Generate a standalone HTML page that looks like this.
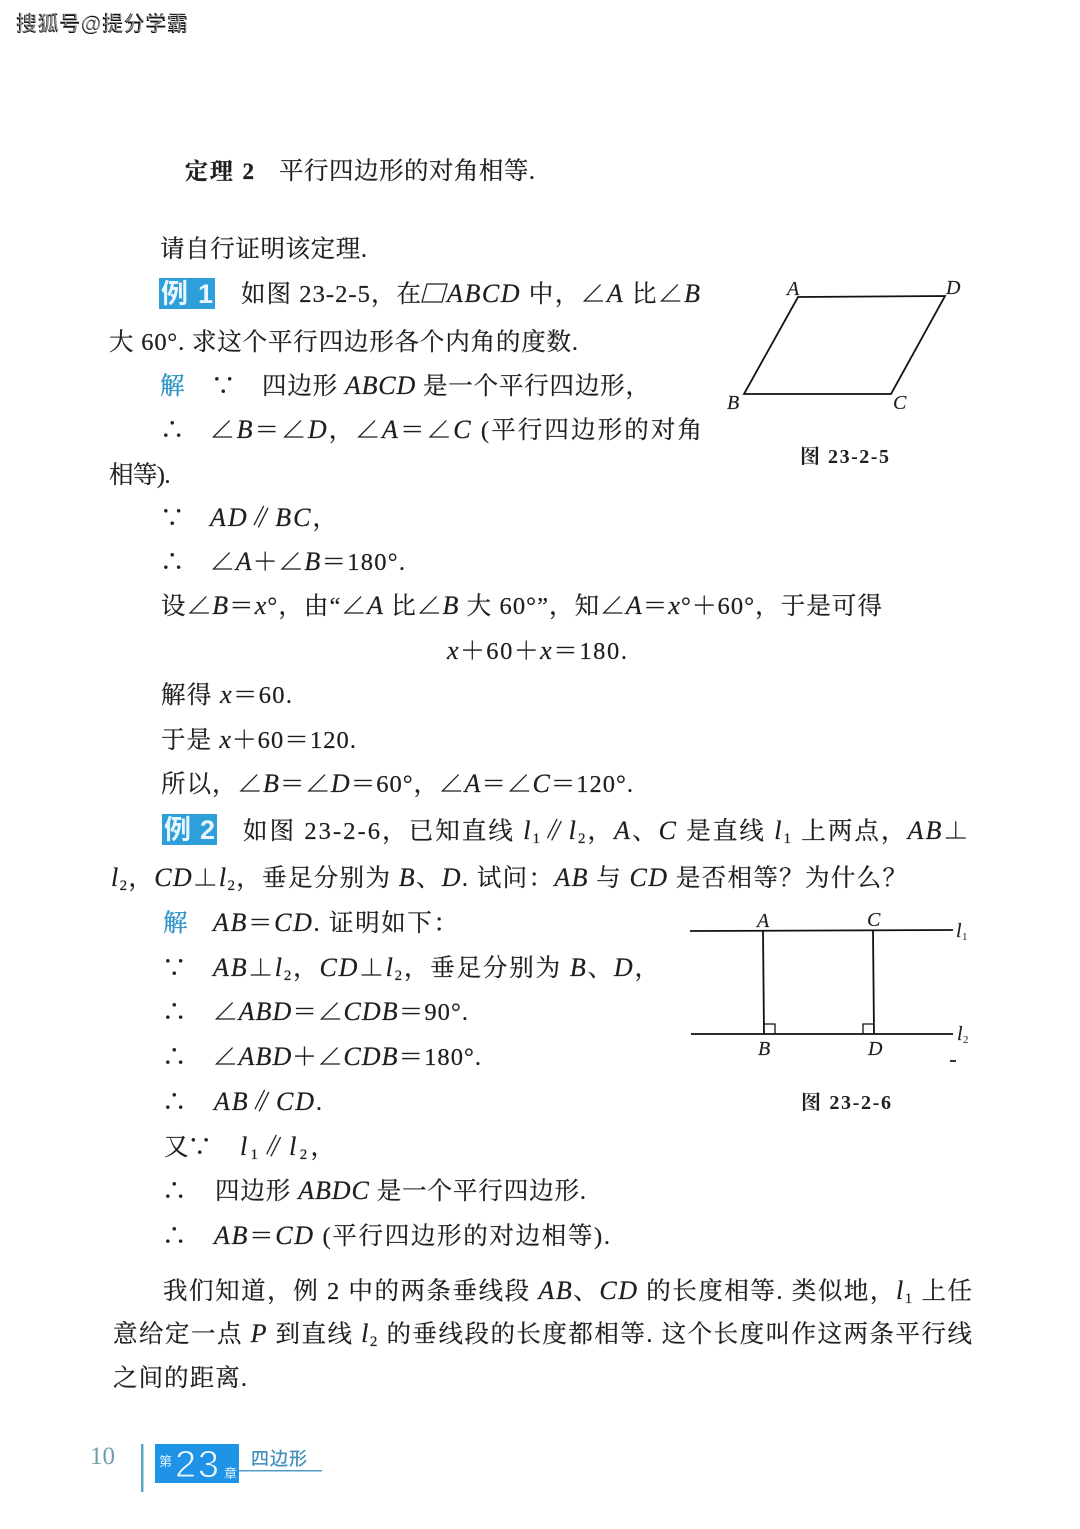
<!DOCTYPE html>
<html lang="zh"><head><meta charset="utf-8"><title>定理2</title>
<style>
html,body{margin:0;padding:0;background:#fff}
svg{display:block}
text{font-family:"Liberation Serif","Noto Serif CJK SC",serif;font-size:24.5px;fill:#1f1f1f}
g.t text{stroke:#1f1f1f;stroke-width:.22px}
.i{font-style:italic;font-size:26px}
.s{font-size:15px}
.b{font-weight:bold}
g.t text.blue{fill:#2f94c8;stroke:#2f94c8;stroke-width:.35px}
.lab{font-size:20px;font-style:italic;stroke:#1f1f1f;stroke-width:.15px}
.cap{font-size:20px;font-weight:bold}
.sans{font-family:"Liberation Sans","Noto Sans CJK SC",sans-serif}
</style></head><body>
<svg width="1080" height="1529" viewBox="0 0 1080 1529" xmlns="http://www.w3.org/2000/svg">
<rect width="1080" height="1529" fill="#fff"/>

<!-- watermark -->
<text x="16" y="31" textLength="172" lengthAdjust="spacing" class="sans" style="font-size:21px;font-weight:bold;fill:#111">搜狐号@提分学霸</text>
<text x="16.6" y="30" textLength="172" lengthAdjust="spacing" class="sans" style="font-size:21px;fill:#fff;opacity:.55" aria-hidden="true">搜狐号@提分学霸</text>

<g class="t" transform="translate(0,1)">
<!-- theorem -->
<text x="185" y="178" textLength="69" lengthAdjust="spacing" class="b" style="font-size:23px">定理 2</text>
<text x="279" y="178" textLength="256" lengthAdjust="spacing">平行四边形的对角相等.</text>
<text x="160" y="256" textLength="207" lengthAdjust="spacing">请自行证明该定理.</text>

<!-- example 1 -->
<text x="241" y="301" textLength="180" lengthAdjust="spacing">如图 23-2-5，在</text>
<polygon points="427,283 447,283 442,301 422,301" fill="none" stroke="#222" stroke-width="1.3"/>
<text x="447" y="301" textLength="253" lengthAdjust="spacing"><tspan class="i">ABCD</tspan> 中，∠<tspan class="i">A</tspan> 比∠<tspan class="i">B</tspan></text>
<text x="109" y="349" textLength="469" lengthAdjust="spacing">大 60°. 求这个平行四边形各个内角的度数.</text>
<text x="160" y="393" class="blue">解</text>
<text x="211" y="393">∵</text>
<text x="262" y="393" textLength="388" lengthAdjust="spacing">四边形 <tspan class="i">ABCD</tspan> 是一个平行四边形，</text>
<text x="160" y="437">∴</text>
<text x="210" y="437" textLength="492" lengthAdjust="spacing">∠<tspan class="i">B</tspan>＝∠<tspan class="i">D</tspan>，∠<tspan class="i">A</tspan>＝∠<tspan class="i">C</tspan> (平行四边形的对角</text>
<text x="109" y="482" style="letter-spacing:-.6px">相等).</text>
<text x="160" y="525">∵</text>
<text x="210" y="525" textLength="127" lengthAdjust="spacing"><tspan class="i">AD</tspan>∥<tspan class="i">BC</tspan>，</text>
<text x="160" y="569">∴</text>
<text x="210" y="569" textLength="195" lengthAdjust="spacing">∠<tspan class="i">A</tspan>＋∠<tspan class="i">B</tspan>＝180°.</text>
<text x="161" y="613" textLength="721" lengthAdjust="spacing">设∠<tspan class="i">B</tspan>＝<tspan class="i">x</tspan>°，由“∠<tspan class="i">A</tspan> 比∠<tspan class="i">B</tspan> 大 60°”，知∠<tspan class="i">A</tspan>＝<tspan class="i">x</tspan>°＋60°，于是可得</text>
<text x="447" y="658" textLength="180" lengthAdjust="spacing"><tspan class="i">x</tspan>＋60＋<tspan class="i">x</tspan>＝180.</text>
<text x="161" y="702" textLength="131" lengthAdjust="spacing">解得 <tspan class="i">x</tspan>＝60.</text>
<text x="161" y="747" textLength="195" lengthAdjust="spacing">于是 <tspan class="i">x</tspan>＋60＝120.</text>
<text x="161" y="791" textLength="472" lengthAdjust="spacing">所以，∠<tspan class="i">B</tspan>＝∠<tspan class="i">D</tspan>＝60°，∠<tspan class="i">A</tspan>＝∠<tspan class="i">C</tspan>＝120°.</text>

<!-- example 2 -->
<text x="243" y="838" textLength="725" lengthAdjust="spacing">如图 23-2-6，已知直线 <tspan class="i">l</tspan><tspan class="s" dy="4">1</tspan><tspan dy="-4">∥</tspan><tspan class="i">l</tspan><tspan class="s" dy="4">2</tspan><tspan dy="-4">，</tspan><tspan class="i">A</tspan>、<tspan class="i">C</tspan> 是直线 <tspan class="i">l</tspan><tspan class="s" dy="4">1</tspan><tspan dy="-4"> 上两点，</tspan><tspan class="i">AB</tspan>⊥</text>
<text x="111" y="885" textLength="796" lengthAdjust="spacing"><tspan class="i">l</tspan><tspan class="s" dy="4">2</tspan><tspan dy="-4">，</tspan><tspan class="i">CD</tspan>⊥<tspan class="i">l</tspan><tspan class="s" dy="4">2</tspan><tspan dy="-4">，垂足分别为 </tspan><tspan class="i">B</tspan>、<tspan class="i">D</tspan>. 试问：<tspan class="i">AB</tspan> 与 <tspan class="i">CD</tspan> 是否相等？为什么？</text>
<text x="163" y="930" class="blue">解</text>
<text x="213" y="930" textLength="245" lengthAdjust="spacing"><tspan class="i">AB</tspan>＝<tspan class="i">CD</tspan>. 证明如下：</text>
<text x="162" y="975">∵</text>
<text x="213" y="975" textLength="446" lengthAdjust="spacing"><tspan class="i">AB</tspan>⊥<tspan class="i">l</tspan><tspan class="s" dy="4">2</tspan><tspan dy="-4">，</tspan><tspan class="i">CD</tspan>⊥<tspan class="i">l</tspan><tspan class="s" dy="4">2</tspan><tspan dy="-4">，垂足分别为 </tspan><tspan class="i">B</tspan>、<tspan class="i">D</tspan>，</text>
<text x="162" y="1019">∴</text>
<text x="213" y="1019" textLength="255" lengthAdjust="spacing">∠<tspan class="i">ABD</tspan>＝∠<tspan class="i">CDB</tspan>＝90°.</text>
<text x="162" y="1064">∴</text>
<text x="213" y="1064" textLength="268" lengthAdjust="spacing">∠<tspan class="i">ABD</tspan>＋∠<tspan class="i">CDB</tspan>＝180°.</text>
<text x="162" y="1109">∴</text>
<text x="214" y="1109" textLength="108" lengthAdjust="spacing"><tspan class="i">AB</tspan>∥<tspan class="i">CD</tspan>.</text>
<text x="164" y="1154" textLength="48" lengthAdjust="spacing">又∵</text>
<text x="240" y="1154" textLength="95" lengthAdjust="spacing"><tspan class="i">l</tspan><tspan class="s" dy="4">1</tspan><tspan dy="-4">∥</tspan><tspan class="i">l</tspan><tspan class="s" dy="4">2</tspan><tspan dy="-4">，</tspan></text>
<text x="162" y="1198">∴</text>
<text x="215" y="1198" textLength="371" lengthAdjust="spacing">四边形 <tspan class="i">ABDC</tspan> 是一个平行四边形.</text>
<text x="162" y="1243">∴</text>
<text x="214" y="1243" textLength="396" lengthAdjust="spacing"><tspan class="i">AB</tspan>＝<tspan class="i">CD</tspan> (平行四边形的对边相等).</text>

<!-- closing paragraph -->
<text x="163" y="1298" textLength="809" lengthAdjust="spacing">我们知道，例 2 中的两条垂线段 <tspan class="i">AB</tspan>、<tspan class="i">CD</tspan> 的长度相等. 类似地，<tspan class="i">l</tspan><tspan class="s" dy="4">1</tspan><tspan dy="-4"> 上任</tspan></text>
<text x="113" y="1341" textLength="859" lengthAdjust="spacing">意给定一点 <tspan class="i">P</tspan> 到直线 <tspan class="i">l</tspan><tspan class="s" dy="4">2</tspan><tspan dy="-4"> 的垂线段的长度都相等. 这个长度叫作这两条平行线</tspan></text>
<text x="113" y="1385" textLength="134" lengthAdjust="spacing">之间的距离.</text>
</g>

<!-- badges -->
<rect x="159" y="278" width="56" height="31" fill="#2f9fdc"/>
<text x="161" y="303" textLength="52" lengthAdjust="spacing" class="sans" style="font-size:27px;font-weight:bold;fill:#e8f6fd">例 1</text>
<rect x="162" y="814" width="55" height="31" fill="#2f9fdc"/>
<text x="164" y="839" textLength="51" lengthAdjust="spacing" class="sans" style="font-size:27px;font-weight:bold;fill:#e8f6fd">例 2</text>

<!-- figure 23-2-5 -->
<polygon points="798,297 945,296 891,394 744,394" fill="none" stroke="#111" stroke-width="1.8"/>
<text x="787" y="295" class="lab">A</text>
<text x="946" y="294" class="lab">D</text>
<text x="727" y="409" class="lab">B</text>
<text x="893" y="409" class="lab">C</text>
<text x="800" y="463" textLength="89" lengthAdjust="spacing" class="cap">图 23-2-5</text>

<!-- figure 23-2-6 -->
<g fill="none" stroke="#111" stroke-width="1.8">
<line x1="690" y1="931" x2="953" y2="930"/>
<line x1="691" y1="1034" x2="953" y2="1034"/>
<line x1="763" y1="931" x2="764" y2="1034"/>
<line x1="873" y1="931" x2="874" y2="1034"/>
<polyline stroke-width="1.3" points="764,1024 775,1024 775,1034"/>
<polyline stroke-width="1.3" points="863,1034 863,1024 874,1024"/>
</g>
<text x="757" y="927" class="lab">A</text>
<text x="867" y="926" class="lab">C</text>
<text x="758" y="1055" class="lab">B</text>
<text x="868" y="1055" class="lab">D</text>
<text x="956" y="937" class="lab">l</text><text x="962" y="940" style="font-size:11px">1</text>
<text x="957" y="1040" class="lab">l</text><text x="963" y="1043" style="font-size:11px">2</text>
<rect x="950" y="1060" width="6" height="2" fill="#333"/>
<text x="801" y="1109" textLength="90" lengthAdjust="spacing" class="cap">图 23-2-6</text>

<!-- footer -->
<text x="90" y="1464" style="font-size:25px;fill:#6f9db0">10</text>
<rect x="141" y="1444" width="2.5" height="48" fill="#5aa6c8"/>
<rect x="155" y="1444" width="84" height="39" fill="#1f93e6"/>
<text x="159" y="1466" class="sans" style="font-size:13px;fill:#dff2fd">第</text>
<text x="175" y="1477" textLength="44" lengthAdjust="spacing" class="sans" style="font-size:38px;fill:#e8f6fd;stroke:#1f93e6;stroke-width:.9px">23</text>
<text x="224" y="1478" class="sans" style="font-size:13px;fill:#dff2fd">章</text>
<text x="251" y="1465" textLength="56" lengthAdjust="spacing" class="sans" style="font-size:18px;fill:#3d8fbb;stroke:#3d8fbb;stroke-width:.3px">四边形</text>
<rect x="239" y="1470" width="83" height="1.5" fill="#4f9cc8"/>
</svg>
</body></html>
